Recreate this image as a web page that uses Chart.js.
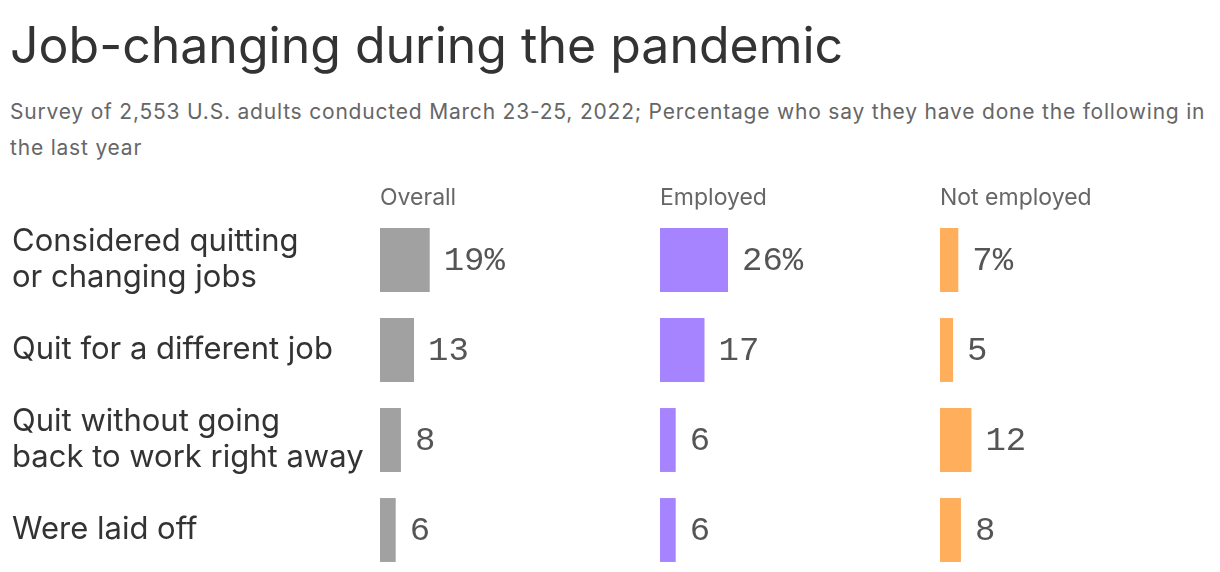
<!DOCTYPE html>
<html lang="en">
<head>
    <meta charset="UTF-8">
    <title>Job-changing during the pandemic</title>
    <script src="https://cdn.jsdelivr.net/npm/chart.js"></script>
    <style>
        body {
            margin: 0;
            width: 1220px;
            height: 572px;
            overflow: hidden;
            background: #fff;
            font-family: "Inter", "Noto Sans", sans-serif;
            position: relative;
        }
        .title {
            position: absolute;
            left: 10px;
            top: 20px;
            font-size: 50px;
            line-height: 50px;
            color: #333;
        }
        .subtitle {
            position: absolute;
            left: 10px;
            top: 94px;
            width: 1210px;
            font-size: 21px;
            letter-spacing: 0.8px;
            line-height: 36px;
            color: #666;
        }
        #chart {
            position: absolute;
            left: 0;
            top: 180px;
        }
    </style>
</head>
<body>
    <div class="title">Job-changing during the pandemic</div>
    <div class="subtitle">Survey of 2,553 U.S. adults conducted March 23-25, 2022; Percentage who say they have done the following in<br>the last year</div>
    <canvas id="chart" width="1220" height="395"></canvas>

    <script>
        const categories = [
            ['Considered quitting', 'or changing jobs'],
            'Quit for a different job',
            ['Quit without going', 'back to work right away'],
            'Were laid off'
        ];
        const groups = ['Overall', 'Employed', 'Not employed'];
        const overall = [19, 13, 8, 6];
        const employed = [26, 17, 6, 6];
        const notEmployed = [7, 5, 12, 8];

        const colors = ['#a1a1a1', '#a683ff', '#ffae5c'];
        const seriesValues = [overall, employed, notEmployed];

        // value labels next to each bar, first row gets a %
        const valueLabels = {
            id: 'valueLabels',
            afterDatasetsDraw(chart) {
                const ctx = chart.ctx;
                ctx.save();
                ctx.font = '34px "Liberation Mono", "DejaVu Sans Mono", monospace';
                ctx.fillStyle = '#555';
                ctx.textBaseline = 'middle';
                ctx.textAlign = 'left';
                chart.data.datasets.forEach((ds, i) => {
                    chart.getDatasetMeta(i).data.forEach((bar, j) => {
                        const txt = ds.data[j] + (j === 0 ? '%' : '');
                        ctx.fillText(txt, bar.x + 14, bar.y + 1);
                    });
                });
                ctx.restore();
            }
        };

        function xAxis(title) {
            return {
                type: 'linear',
                position: 'top',
                stack: 'panels',
                stackWeight: 1,
                min: 0,
                max: 107,
                grid: { display: false },
                border: { display: false },
                ticks: { display: false },
                title: {
                    display: true,
                    text: title,
                    align: 'start',
                    color: '#666',
                    font: { family: 'Inter', size: 23 },
                    padding: { top: 4, bottom: 0 }
                },
                afterFit: scale => { scale.height = 35; }
            };
        }

        // top boxes get laid out in reverse, so list the panels last-to-first
        const scales = {};
        for (let i = groups.length - 1; i >= 0; i--) {
            scales['x' + i] = xAxis(groups[i]);
        }
        scales.y = {
            grid: { display: false },
            border: { display: false },
            ticks: {
                color: '#333',
                crossAlign: 'far',
                font: { family: 'Inter', size: 31, lineHeight: 1.17 }
            },
            afterFit: scale => {
                scale.width = 368;
                scale.paddingTop = 0;
                scale.paddingBottom = 0;
            }
        };

        const ctx = document.getElementById('chart').getContext('2d');
        new Chart(ctx, {
            type: 'bar',
            data: {
                labels: categories,
                datasets: groups.map((g, i) => ({
                    label: g,
                    data: seriesValues[i],
                    backgroundColor: colors[i],
                    xAxisID: 'x' + i,
                    grouped: false,
                    barPercentage: 1,
                    categoryPercentage: 0.71
                }))
            },
            options: {
                indexAxis: 'y',
                responsive: false,
                animation: false,
                layout: { padding: { left: 12, right: 0, top: 0, bottom: 0 } },
                plugins: {
                    legend: { display: false },
                    tooltip: { enabled: false }
                },
                scales: scales
            },
            plugins: [valueLabels]
        });
    </script>
</body>
</html>
